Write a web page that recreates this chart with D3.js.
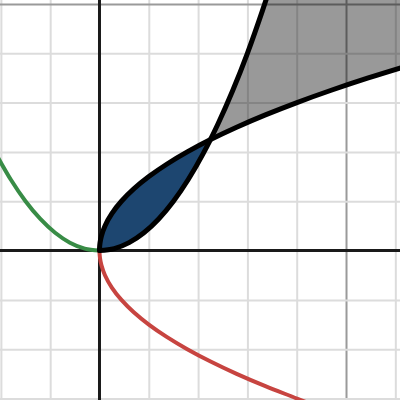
<!DOCTYPE html>
<html><head><meta charset="utf-8">
<script src="https://cdn.jsdelivr.net/npm/d3@7"></script>
<style>html,body{margin:0;padding:0;background:#fff;}svg{display:block;}</style>
</head><body>
<svg id="chart" width="400" height="400"></svg>
<script>
// grid-line positions (graph units)
const gridX = [-2, -1, 0, 1, 2, 3, 4, 5, 6];
const gridY = [-3, -2, -1, 0, 1, 2, 3, 4, 5];
const majorLines = [5];

// parabola branch left of the y-axis (green)
const greenPts = [[-2.1,1.96],[-1.8,1.44],[-1.5,1.00],[-1.2,0.64],[-0.9,0.36],[-0.6,0.16],[-0.3,0.04],[0,0]];
// parabola branch right of the y-axis (black)
const parabolaPts = [[0,0],[0.3,0.04],[0.6,0.16],[0.9,0.36],[1.2,0.64],[1.5,1.00],[1.8,1.44],[2.1,1.96],[2.25,2.25],[2.4,2.56],[2.7,3.24],[3.0,4.0],[3.3,4.85],[3.45,5.30]];
// sideways parabola, upper branch (black)
const upperPts = [[0,0],[0.001,0.05],[0.010,0.15],[0.040,0.3],[0.111,0.5],[0.250,0.75],[0.445,1.0],[0.695,1.25],[1.001,1.5],[1.363,1.75],[1.78,2.0],[2.253,2.25],[2.781,2.5],[3.365,2.75],[4.005,3.0],[4.70,3.25],[5.451,3.5],[6.426,3.8]];
// sideways parabola, lower branch (red)
const lowerPts = [[0,0],[0.001,-0.05],[0.010,-0.15],[0.040,-0.3],[0.111,-0.5],[0.250,-0.75],[0.445,-1.0],[0.695,-1.25],[1.001,-1.5],[1.363,-1.75],[1.78,-2.0],[2.253,-2.25],[2.781,-2.5],[3.365,-2.75],[4.005,-3.0],[4.258,-3.1]];
const intersection = [2.25, 2.25];

const W = 400, H = 400;
const svg = d3.select("#chart");
const x = d3.scaleLinear().domain([-2.018, 6.095]).range([0, W]);
const y = d3.scaleLinear().domain([-3.03, 5.08]).range([H, 0]);

svg.append("defs").append("clipPath").attr("id","clip")
  .append("rect").attr("width", W).attr("height", H);

// grid via axes
const gx = svg.append("g").attr("transform", `translate(0,${H})`)
  .call(d3.axisBottom(x).tickValues(gridX.filter(v => v !== 0)).tickSize(-H).tickFormat(""));
gx.select(".domain").remove();
gx.selectAll(".tick line").attr("stroke", d => majorLines.includes(d) ? "#9a9a9a" : "#dcdcdc").attr("stroke-width", 2);
const gy = svg.append("g")
  .call(d3.axisLeft(y).tickValues(gridY.filter(v => v !== 0)).tickSize(-W).tickFormat(""));
gy.select(".domain").remove();
gy.selectAll(".tick line").attr("stroke", d => majorLines.includes(d) ? "#9a9a9a" : "#dcdcdc").attr("stroke-width", 2);

const plot = svg.append("g").attr("clip-path", "url(#clip)");

const lineX = d3.line().x(d => x(d[0])).y(d => y(d[1])).curve(d3.curveMonotoneX);
const lineY = d3.line().x(d => x(d[0])).y(d => y(d[1])).curve(d3.curveMonotoneY);

// shaded regions
const iIdxP = parabolaPts.findIndex(p => p[0] === intersection[0]);
const iIdxU = upperPts.findIndex(p => p[0] === 2.253);
const blueUpper = upperPts.slice(0, iIdxU + 1);
const blueLower = parabolaPts.slice(0, iIdxP + 1);
const bluePath = lineY(blueUpper) + lineX(blueLower.slice().reverse()).replace(/^M/, "L") + "Z";
plot.append("path").attr("d", bluePath).attr("fill", "#1d4670");

const grayLeft = parabolaPts.slice(iIdxP);
const grayRight = upperPts.slice(iIdxU);
const xmax = x.domain()[1] + 1, ymax = y.domain()[1] + 1;
const grayPath = lineX(grayLeft) + `L${x(grayLeft[grayLeft.length-1][0])},${y(ymax)}L${x(xmax)},${y(ymax)}L${x(xmax)},${y(grayRight[grayRight.length-1][1])}` +
  lineY(grayRight.slice().reverse()).replace(/^M/, "L") + "Z";
plot.append("path").attr("d", grayPath).attr("fill", "#000").attr("fill-opacity", 0.4);

// axes
plot.append("line").attr("x1", 0).attr("x2", W).attr("y1", y(0)).attr("y2", y(0)).attr("stroke", "#1a1a1a").attr("stroke-width", 3);
plot.append("line").attr("y1", 0).attr("y2", H).attr("x1", x(0)).attr("x2", x(0)).attr("stroke", "#1a1a1a").attr("stroke-width", 3);

// curves
plot.append("path").attr("d", lineX(greenPts)).attr("fill", "none").attr("stroke", "#388c46").attr("stroke-width", 4).attr("stroke-linecap", "round");
plot.append("path").attr("d", lineY(lowerPts.slice().reverse())).attr("fill", "none").attr("stroke", "#c74440").attr("stroke-width", 4).attr("stroke-linecap", "round");
plot.append("path").attr("d", lineX(parabolaPts)).attr("fill", "none").attr("stroke", "#000").attr("stroke-width", 5).attr("stroke-linecap", "round");
plot.append("path").attr("d", lineY(upperPts)).attr("fill", "none").attr("stroke", "#000").attr("stroke-width", 5).attr("stroke-linecap", "round");
</script>
</body></html>
